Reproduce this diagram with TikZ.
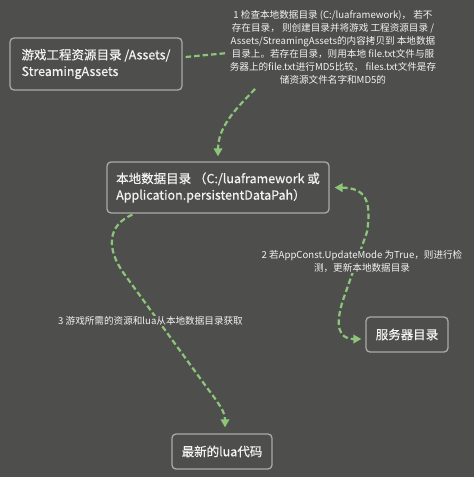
\documentclass[tikz,border=0pt]{standalone}
\usepackage{fontspec}
\setmainfont{Noto Sans CJK SC}
\newfontfamily\boxfont[FakeBold=0.5]{Noto Sans CJK SC}
\usetikzlibrary{arrows.meta}
\definecolor{bg}{HTML}{4E4F4D}
\definecolor{edge}{HTML}{A9AAA8}
\definecolor{lk}{HTML}{8DC67A}
\definecolor{txt}{HTML}{F2F2F2}
\tikzset{
  box/.style={draw=edge, line width=1.3pt, rounded corners=4pt, fill=bg, text=txt,
    font=\boxfont\fontsize{12.5}{16.5}\selectfont, inner xsep=8pt, inner ysep=5pt, align=left},
  lbl/.style={text=txt, font=\fontsize{9.6}{13}\selectfont, align=center, inner sep=0.8pt},
  link/.style={draw=lk, line width=2.2pt, dash pattern=on 5.5pt off 3pt,
    -{Triangle[length=8pt,width=8.5pt]}},
  plain/.style={draw=lk, line width=2.2pt, dash pattern=on 5.5pt off 3pt},
}
\begin{document}
\begin{tikzpicture}[x=1pt,y=1pt]
\fill[bg] (0,0) rectangle (474,-477);
\useasboundingbox (0,0) rectangle (474,-477);

\node[box, minimum width=172pt, minimum height=52pt] (b1) at (96,-64)
  {游戏工程资源目录 /Assets/\\StreamingAssets};
\node[box, minimum width=222pt, minimum height=51pt] (b2) at (218,-187.5)
  {本地数据目录 （C:/luaframework 或\\Application.persistentDataPah）};
\node[box, minimum width=82pt, minimum height=35pt] (b3) at (407,-334.5) {服务器目录};
\node[box, minimum width=100pt, minimum height=35pt] (b4) at (222,-451.5) {最新的lua代码};

\node[lbl] (l1) at (333,-47) {1 检查本地数据目录 (C:/luaframework)， 若不\\
存在目录， 则创建目录并将游戏 工程资源目录 /\\
Assets/StreamingAssets的内容拷贝到 本地数据\\
目录上。若存在目录，则用本地 file.txt文件与服\\
务器上的file.txt进行MD5比较， files.txt文件是存\\
储资源文件名字和MD5的};

% edge 1: b1 -> b2 via label 1
\draw[plain] ([xshift=3pt,yshift=7pt]b1.east) -- ([xshift=-1pt,yshift=-6pt]l1.west);
\draw[link] ([xshift=-78pt,yshift=-4pt]l1.south) .. controls (240,-105) and (218,-125) .. ([yshift=5pt]b2.north);

% edge 2: b2 <-> b3
\draw[link, {Triangle[length=8pt,width=8.5pt]}-{Triangle[length=8pt,width=8.5pt]}]
  ([xshift=5pt]b2.east) .. controls (365,-188) and (372,-200) .. (367,-232)
  -- (343,-300) .. controls (335,-325) and (338,-339) .. ([xshift=-4pt,yshift=-4.5pt]b3.west);
\node[lbl, fill=bg] (l2) at (362,-261) {2 若AppConst.UpdateMode 为True，则进行检\\测，更新本地数据目录};

% edge 3: b2 -> b4
\draw[link] ([xshift=26pt,yshift=-1pt]b2.south west) .. controls (108,-225) and (105,-248) .. (125,-275)
  -- (205,-385) .. controls (220,-405) and (225,-412) .. ([xshift=3pt,yshift=6pt]b4.north);
\node[lbl, fill=bg] (l3) at (150.5,-321) {3 游戏所需的资源和lua从本地数据目录获取};
\end{tikzpicture}
\end{document}
